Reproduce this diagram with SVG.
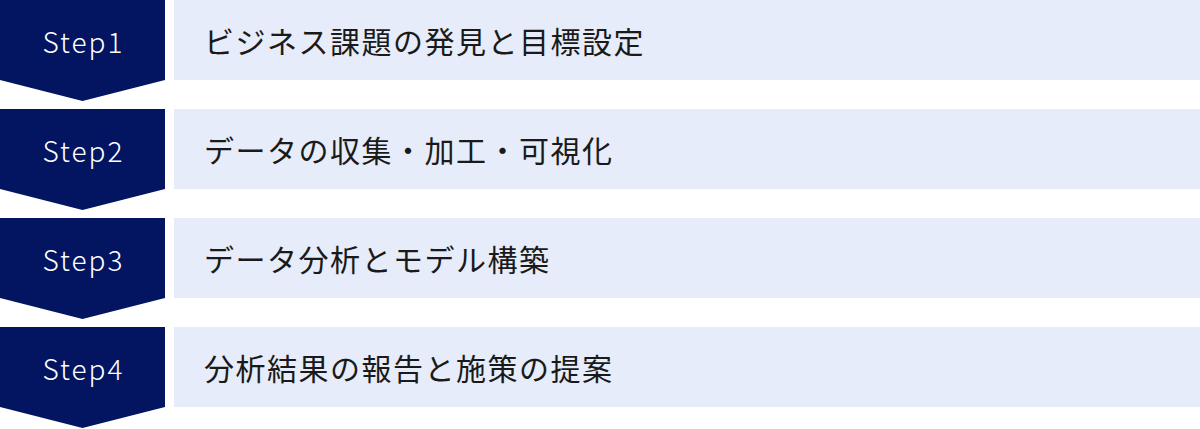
<svg xmlns="http://www.w3.org/2000/svg" width="1200" height="429" viewBox="0 0 1200 429">
<style>
.step{fill:#031561}
.box{fill:#e6ecf9}
.st{font-family:"Noto Sans CJK JP","Noto Sans",sans-serif;font-size:28px;font-weight:300;fill:#ffffff;letter-spacing:2px;text-anchor:middle;dominant-baseline:central}
.lb{font-family:"Noto Sans CJK JP",sans-serif;font-size:30px;fill:#1a1a1a;letter-spacing:1.5px;dominant-baseline:central}
</style>
<rect width="1200" height="429" fill="#ffffff"/>
<g id="step1">
<path class="step" d="M0 0H165V80L82.5 101L0 80Z"/>
<rect class="box" x="174" y="0" width="1026" height="80"/>
<text class="st" x="83.5" y="41">Step1</text>
<text class="lb" x="204" y="40">ビジネス課題の発見と目標設定</text>
</g>
<g id="step2">
<path class="step" d="M0 109H165V189L82.5 210L0 189Z"/>
<rect class="box" x="174" y="109" width="1026" height="80"/>
<text class="st" x="83.5" y="150">Step2</text>
<text class="lb" x="204" y="149">データの収集・加工・可視化</text>
</g>
<g id="step3">
<path class="step" d="M0 218H165V298L82.5 319L0 298Z"/>
<rect class="box" x="174" y="218" width="1026" height="80"/>
<text class="st" x="83.5" y="259">Step3</text>
<text class="lb" x="204" y="258">データ分析とモデル構築</text>
</g>
<g id="step4">
<path class="step" d="M0 327H165V407L82.5 428L0 407Z"/>
<rect class="box" x="174" y="327" width="1026" height="80"/>
<text class="st" x="83.5" y="368">Step4</text>
<text class="lb" x="204" y="367">分析結果の報告と施策の提案</text>
</g>
<g id="connectors"></g>
</svg>
